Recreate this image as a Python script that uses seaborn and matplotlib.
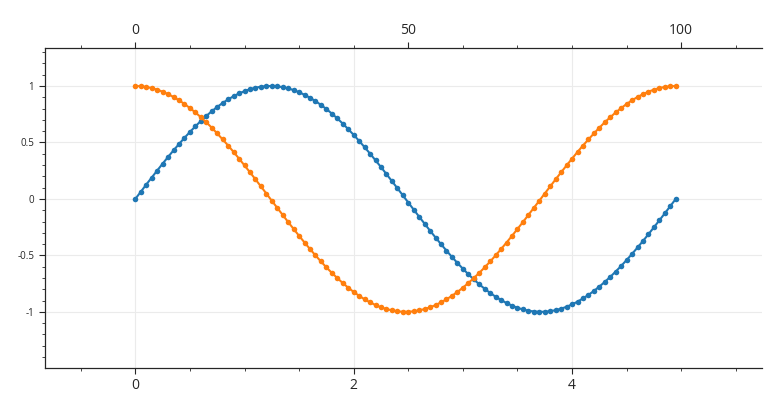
import matplotlib
matplotlib.use("Agg")
import matplotlib.pyplot as plt
import seaborn as sns
import pandas as pd
from matplotlib.ticker import AutoMinorLocator

step = 0.05
index = list(range(100))
sin_vals = [0, 0.063, 0.127, 0.189, 0.251, 0.312, 0.372, 0.430, 0.486, 0.541, 0.593, 0.643, 0.690, 0.735, 0.776, 0.815, 0.850, 0.881, 0.910, 0.934, 0.955, 0.972, 0.985, 0.994, 0.999,
            0.9999, 0.997, 0.990, 0.979, 0.964, 0.945, 0.922, 0.896, 0.866, 0.833, 0.796, 0.756, 0.713, 0.667, 0.618, 0.567, 0.514, 0.458, 0.401, 0.342, 0.282, 0.220, 0.158, 0.095, 0.032,
            -0.032, -0.095, -0.158, -0.220, -0.282, -0.342, -0.401, -0.458, -0.514, -0.567, -0.618, -0.667, -0.713, -0.756, -0.796, -0.833, -0.866, -0.896, -0.922, -0.945, -0.964, -0.979, -0.990, -0.997, -1.000,
            -0.999, -0.994, -0.985, -0.972, -0.955, -0.934, -0.910, -0.881, -0.850, -0.815, -0.776, -0.735, -0.690, -0.643, -0.593, -0.541, -0.486, -0.430, -0.372, -0.312, -0.251, -0.189, -0.127, -0.063, 0]
cos_vals = [1, 0.998, 0.992, 0.982, 0.968, 0.950, 0.928, 0.903, 0.874, 0.841, 0.805, 0.766, 0.724, 0.679, 0.631, 0.580, 0.527, 0.473, 0.416, 0.357, 0.297, 0.236, 0.174, 0.111, 0.048,
            -0.016, -0.079, -0.142, -0.205, -0.266, -0.327, -0.386, -0.444, -0.500, -0.554, -0.606, -0.655, -0.701, -0.745, -0.786, -0.824, -0.858, -0.889, -0.916, -0.940, -0.960, -0.975, -0.987, -0.995, -0.9995,
            -0.9995, -0.995, -0.987, -0.975, -0.960, -0.940, -0.916, -0.889, -0.858, -0.824, -0.786, -0.745, -0.701, -0.655, -0.606, -0.554, -0.500, -0.444, -0.386, -0.327, -0.266, -0.205, -0.142, -0.079, -0.016,
            0.048, 0.111, 0.174, 0.236, 0.297, 0.357, 0.416, 0.473, 0.527, 0.580, 0.631, 0.679, 0.724, 0.766, 0.805, 0.841, 0.874, 0.903, 0.928, 0.950, 0.968, 0.982, 0.992, 0.998, 1]

xs = [i * step for i in index]
df = pd.DataFrame({"x": xs + xs, "y": sin_vals + cos_vals,
                   "s": ["sin"] * 100 + ["cos"] * 100})

sns.set_style("white")
plt.rcParams['font.family'] = ['Open Sans', 'DejaVu Sans']
fig = plt.figure(figsize=(7.84, 4.11), dpi=100)
ax = fig.add_axes([0.057, 0.105, 0.915, 0.778])
sns.lineplot(data=df, x="x", y="y", hue="s", palette=["#1f77b4", "#ff7f0e"],
             marker="o", markersize=4, markeredgewidth=0, linewidth=1.5,
             legend=False, ax=ax)
ax.set_xlim(-0.83, 5.74)
ax.set_ylim(-1.496, 1.336)
ax.set_xticks([0, 2, 4])
ax.set_yticks([-1, -0.5, 0, 0.5, 1])
ax.set_yticklabels(["-1", "-0.5", "0", "0.5", "1"])
ax.xaxis.set_minor_locator(AutoMinorLocator(4))
ax.yaxis.set_minor_locator(AutoMinorLocator(5))
ax.grid(True, color="#ebebeb", linewidth=0.8)
ax.set_xlabel(""); ax.set_ylabel("")
ax.tick_params(axis="x", labelsize=10, length=4, direction="out", bottom=True)
ax.tick_params(axis="y", labelsize=7, length=4, direction="out", left=True)
ax.tick_params(which="minor", length=2, bottom=True, left=True)
ax.spines["right"].set_visible(False)
for s in ["left", "bottom", "top"]:
    ax.spines[s].set_color("black"); ax.spines[s].set_linewidth(0.8)

top = ax.twiny()
top.set_xlim(-0.83 / step, 5.74 / step)
top.set_xticks([0, 50, 100])
top.xaxis.set_minor_locator(AutoMinorLocator(5))
top.tick_params(axis="x", labelsize=10, length=4, top=True)
top.tick_params(which="minor", length=2, top=True)
top.spines["right"].set_visible(False)
fig.savefig("out.png", dpi=100)
